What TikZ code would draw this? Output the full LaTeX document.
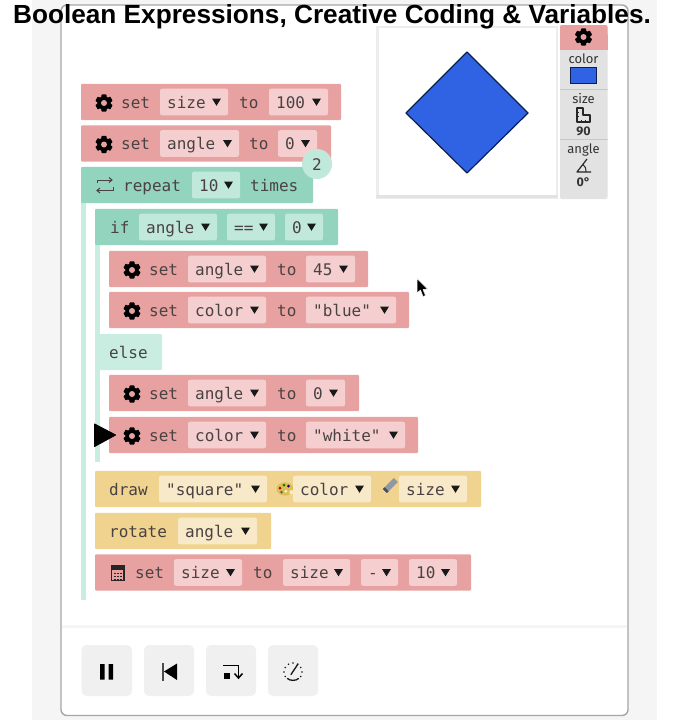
\documentclass[tikz,border=0pt]{standalone}
\usepackage{fontspec}
\setmainfont{Liberation Sans}
\newfontfamily\codefont{DejaVu Sans Mono}
\newfontfamily\sidefont{Fira Sans}
\definecolor{bred}{HTML}{E8A1A1}
\definecolor{cred}{HTML}{F5CFCF}
\definecolor{bgreen}{HTML}{92D4BE}
\definecolor{cgreen}{HTML}{C0E8DB}
\definecolor{lgreen}{HTML}{C9EEE1}
\definecolor{byellow}{HTML}{EFD38F}
\definecolor{cyellow}{HTML}{F8E9C9}
\definecolor{ink}{HTML}{4A4242}
\definecolor{side}{HTML}{E2E2E2}
\definecolor{bluefill}{HTML}{2F63E3}
\definecolor{navy}{HTML}{0C1E4E}
\definecolor{btn}{HTML}{F0F0F0}
\definecolor{rulerc}{HTML}{8E97A8}
\tikzset{
 codetxt/.style={anchor=base west,inner sep=0pt,text=ink,font=\codefont\fontsize{16}{18}\selectfont},
 sidetxt/.style={anchor=base,inner sep=0pt,text=black!80,font=\sidefont\fontsize{13}{15}\selectfont},
 button/.style={fill=btn,rounded corners=5pt},
}
\newcommand{\blk}[4]{\fill[#4,rounded corners=1pt] (#1,#3-18.2) rectangle (#2,#3+18.2);}
\newcommand{\chp}[5]{\fill[#4,rounded corners=2pt] (#1,#3-13.3) rectangle (#2,#3+13.3);
 \node[codetxt] at (#1+7,#3+6) {#5};
 \fill[black!90] (#2-16,#3-3.5) -- (#2-7,#3-3.5) -- (#2-11.5,#3+3.8) -- cycle;}
\newcommand{\txt}[3]{\node[codetxt] at (#1,#2+6) {#3};}
\newcommand{\gearic}[3]{\begin{scope}[shift={(#1,#2)}]
 \fill[black] (0,0) circle (6.8);
 \foreach \a in {30,90,150,210,270,330}
   \fill[black,rotate=\a,rounded corners=.8pt] (5,-2.6) rectangle (8.6,2.6);
 \fill[#3] (0,0) circle (3);
 \end{scope}}
\begin{document}
\begin{tikzpicture}[x=1pt,y=-1pt]
\useasboundingbox (0,0) rectangle (684,720);
\fill[white] (0,0) rectangle (684,720);
\fill[black!4] (32,0) rectangle (657,720);
\draw[black!35,line width=1.4pt,fill=white,rounded corners=6pt] (61,5) rectangle (628,715.5);
\fill[black!4] (62,625) rectangle (627,628);
% preview
\fill[black!7] (376,26) rectangle (558,199);
\fill[black!11] (376,194.5) rectangle (558,198);
\fill[white] (378.5,28) rectangle (555.5,195);
\fill[bluefill,draw=navy,line width=1.2pt,line join=round] (467,52) -- (528,113) -- (467,173) -- (406,113) -- cycle;
% sidebar
\fill[side,rounded corners=2pt] (560,25) rectangle (607.5,199);
\fill[bred,rounded corners=2pt] (560,25) rectangle (607.5,49.5);
\fill[bred] (560,35) rectangle (607.5,49.5);
\gearic{583.5}{37}{bred}
\node[sidetxt] at (583.5,63.5) {color};
\fill[bluefill,draw=navy,line width=1.2pt] (570.5,67.5) rectangle (596.5,83.5);
\draw[black!22] (560,89) -- (607.5,89);
\node[sidetxt] at (583.5,103.5) {size};
\draw[black!85,line width=1.2pt,line join=round] (577,108) -- (583,108) -- (583,115) -- (590,115) -- (590,122) -- (577,122) -- cycle;
\draw[black!85,line width=.8pt] (577,112) -- (579,112) (577,116) -- (579,116) (581,122) -- (581,120) (585,122) -- (585,120);
\node[sidetxt,font=\sidefont\bfseries\fontsize{12.5}{15}\selectfont] at (583.5,135.5) {90};
\draw[black!22] (560,139) -- (607.5,139);
\node[sidetxt] at (583.5,153.5) {angle};
\draw[black!85,line width=1.2pt,line join=round] (587,159) -- (577,172) -- (591,172);
\draw[black!85,line width=1pt] (583,164.5) to[bend left=30] (586,172);
\node[sidetxt,font=\sidefont\bfseries\fontsize{12.5}{15}\selectfont] at (583.5,186.5) {0°};
% nesting bars
\fill[lgreen] (81,203) rectangle (86,600);
\fill[lgreen] (95,245) rectangle (100,462);
% block 1
\blk{81}{341}{102}{bred}
\gearic{104}{103}{bred}
\txt{121}{102}{set}
\chp{160}{228}{102}{cred}{size}
\txt{239}{102}{to}
\chp{269}{328}{102}{cred}{100}
% block 2
\blk{81}{331}{143.5}{bred}
\gearic{104}{144.5}{bred}
\txt{121}{143.5}{set}
\chp{160}{239}{143.5}{cred}{angle}
\txt{249}{143.5}{to}
\chp{278}{317}{143.5}{cred}{0}
% repeat
\blk{81}{313}{185}{bgreen}
\begin{scope}[ink,line width=1pt]
\draw (97,183) -- (97,180) -- (112,180);
\draw (109,177.5) -- (112,180) -- (109,182.5);
\draw (113,186.5) -- (113,190.5) -- (97,190.5);
\draw (100,188) -- (97,190.5) -- (100,193);
\end{scope}
\txt{123}{185}{repeat}
\chp{192}{240}{185}{cgreen}{10}
\txt{250}{185}{times}
% badge
\fill[cgreen] (317,164) circle (15);
\node[codetxt,anchor=base] at (317,170) {2};
% if
\blk{95}{338}{227}{bgreen}
\txt{110}{227}{if}
\chp{139}{217}{227}{cgreen}{angle}
\chp{227}{275}{227}{cgreen}{==}
\chp{285}{323}{227}{cgreen}{0}
% set angle 45
\blk{109}{368}{269}{bred}
\gearic{132}{270}{bred}
\txt{149}{269}{set}
\chp{188}{266}{269}{cred}{angle}
\txt{277}{269}{to}
\chp{306}{355}{269}{cred}{45}
% set color blue
\blk{109}{409}{310}{bred}
\gearic{132}{311}{bred}
\txt{149}{310}{set}
\chp{188}{266}{310}{cred}{color}
\txt{277}{310}{to}
\chp{306}{396}{310}{cred}{"blue"}
% else
\fill[lgreen,rounded corners=1pt] (95,334) rectangle (162,370);
\txt{109}{352}{else}
% set angle 0
\blk{109}{359}{393}{bred}
\gearic{132}{394}{bred}
\txt{149}{393}{set}
\chp{188}{266}{393}{cred}{angle}
\txt{277}{393}{to}
\chp{306}{345}{393}{cred}{0}
% set color white
\blk{109}{418}{435}{bred}
\gearic{132}{436}{bred}
\txt{149}{435}{set}
\chp{188}{266}{435}{cred}{color}
\txt{277}{435}{to}
\chp{306}{405}{435}{cred}{"white"}
\fill[black,line join=round,draw=black,line width=1pt] (94.5,424) -- (115.5,435) -- (94.5,446.5) -- cycle;
% draw
\blk{95}{481}{489}{byellow}
\txt{109}{489}{draw}
\chp{159}{267}{489}{cyellow}{"square"}
\begin{scope}[shift={(285,489)}]
\fill[brown!65!yellow!80] (0,0) ellipse (8.5 and 6.6);
\fill[cyellow] (6.5,3.2) circle (2.2);
\fill[red!70!black] (-5,-1) circle (1.5);
\fill[green!50!black] (-1,-3.8) circle (1.5);
\fill[blue!60!black] (3.5,-3) circle (1.5);
\fill[black!60] (-3.5,3) circle (1.5);
\fill[white!70!yellow] (.8,2.2) circle (1.5);
\end{scope}
\chp{293}{371}{489}{cyellow}{color}
\fill[rulerc,rotate around={45:(390,485.5)}] (382.5,483) rectangle (398,488.5);
\fill[black!70,rotate around={45:(390,485.5)}] (382.5,483) rectangle (385,488.5);
\chp{399}{467}{489}{cyellow}{size}
% rotate
\blk{95}{271}{531}{byellow}
\txt{109}{531}{rotate}
\chp{178}{257}{531}{cyellow}{angle}
% set size
\blk{95}{471}{572.5}{bred}
\begin{scope}[black!85]
\draw[line width=1.2pt] (111.5,566) rectangle (124,580.5);
\fill (111.5,566) rectangle (124,570);
\foreach \px in {114,117,120} \foreach \py in {572.5,575.5,578.5} \fill (\px,\py) rectangle (\px+2,\py+1.6);
\end{scope}
\txt{135}{572.5}{set}
\chp{174}{242}{572.5}{cred}{size}
\txt{253}{572.5}{to}
\chp{283}{350}{572.5}{cred}{size}
\chp{361}{398}{572.5}{cred}{-}
\chp{409}{457}{572.5}{cred}{10}
% cursor
\fill[black,draw=white,line width=.5pt,line join=round] (417,278.5) -- (417,293) -- (420.5,290) -- (423,296.5) -- (425.5,295.5) -- (423,289.5) -- (427.5,289) -- cycle;
% buttons
\fill[button] (81.5,645) rectangle (132,696);
\fill[button] (144,645) rectangle (194,696);
\fill[button] (206,645) rectangle (256,696);
\fill[button] (268,645) rectangle (318,696);
\fill[black] (100,664) rectangle (104.5,679.5) (108.5,664) rectangle (113,679.5);
\fill[black!70] (162,663) rectangle (164,681);
\fill[black] (164,671.5) -- (177,663.5) -- (177,680) -- cycle;
\begin{scope}[black,line width=1.5pt]
\draw (223,665.5) -- (238.5,665.5) -- (238.5,677);
\draw (234.5,673.5) -- (238.5,678) -- (242.5,673.5);
\end{scope}
\fill[black] (223.5,673) rectangle (229.5,678.5);
\begin{scope}[black!90]
\draw[line cap=round,line width=1.3pt] (291,674.5) -- (298,664);
\foreach \a in {150,180,210,90,60,120,0,30,330} \fill ({293+9*cos(\a)},{672-9*sin(\a)}) circle (.9);
\draw[line width=1.3pt,line cap=round] (287.5,678.5) .. controls (290,681) and (296,681) .. (298.5,678.5);
\end{scope}
% title
\node[inner sep=0pt,anchor=base,font=\fontsize{26.2}{28}\selectfont\bfseries,text=black] (title) at (332,23.5) {Boolean Expressions, Creative Coding \& Variables.};
\end{tikzpicture}
\end{document}
